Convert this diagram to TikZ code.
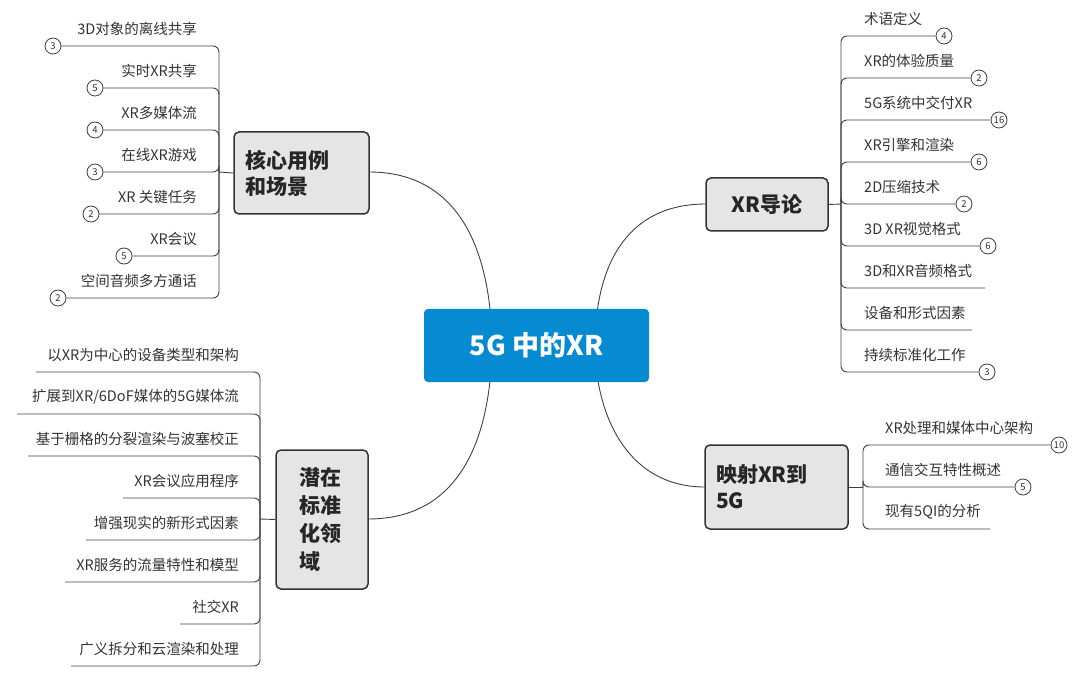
\documentclass[tikz,border=0pt]{standalone}
\usepackage{fontspec}
\setmainfont{Noto Sans CJK SC}
\begin{document}
\begin{tikzpicture}[x=1pt,y=-1pt,
  ln/.style={draw=black!75,line width=0.9pt},
  br/.style={draw=black!80,fill=black!10,line width=1.5pt,rounded corners=5pt,font=\fontsize{21}{26}\selectfont\bfseries,text=black!85,align=left,inner sep=0pt},
  it/.style={font=\fontsize{14.5}{17}\selectfont,text=black!80,inner sep=0pt},
  bd/.style={circle,draw=black!75,fill=white,line width=0.8pt,minimum size=16pt,inner sep=0pt,font=\fontsize{9.5}{10}\selectfont,text=black!80}]
\useasboundingbox (0,0) rectangle (1080,679);
% curves
\draw[ln] (369,172) .. controls (465,172) and (490,260) .. (492,340);
\draw[ln] (368,519) .. controls (465,519) and (490,430) .. (492,350);
\draw[ln] (706,204) .. controls (630,204) and (597,260) .. (595,340);
\draw[ln] (705,487) .. controls (630,487) and (597,420) .. (595,350);
% center
\node[fill={rgb,255:red,6;green,138;blue,210},rounded corners=4pt,minimum width=225pt,minimum height=73pt,text=white,font=\fontsize{27}{30}\selectfont\bfseries] (c) at (536.5,345.5) {5G 中的XR};
% branch nodes
\node[br,minimum width=135pt,minimum height=82pt,text width=113pt] (a) at (301.5,173) {核心用例\\和场景};
\node[br,minimum width=122pt,minimum height=53pt,align=center] (b) at (767,204.5) {XR导论};
\node[br,minimum width=143pt,minimum height=84pt,text width=121pt] (d) at (776.5,487) {映射XR到\\5G};
\node[br,minimum width=92pt,minimum height=139pt,text width=46pt,font=\fontsize{21}{28}\selectfont\bfseries] (e) at (322,519.5) {潜在\\标准\\化领\\域};
% connectors node->spine
\coordinate (sa) at (219,172); \coordinate (sb) at (841,204);
\coordinate (sd) at (863,487); \coordinate (se) at (260,519);
\draw[ln] (a.west) -- (sa); \draw[ln] (b.east) -- (sb);
\draw[ln] (d.east) -- (sd); \draw[ln] (e.west) -- (se);
% left top
\foreach \y/\t/\bx/\n [count=\i] in {46/{3D对象的离线共享}/53/3,88/{实时XR共享}/95/5,130/{XR多媒体流}/95/4,172/{在线XR游戏}/95/3,214/{XR 关键任务}/91/2,256/{XR会议}/124/5,298/{空间音频多方通话}/58/2}{
  \node[bd] (lb\i) at (\bx,\y) {\n};
  \draw[ln,rounded corners=6pt] (sa) |- (lb\i.east);
  \node[it,anchor=south east] (lt\i) at (197,\y-10) {\t};
}
% right top
\foreach \y/\t/\bx/\n [count=\i] in {36/{术语定义}/944/4,78/{XR的体验质量}/979/2,120/{5G系统中交付XR}/999/16,162/{XR引擎和渲染}/979/6,204/{2D压缩技术}/964/2,246/{3D XR视觉格式}/988/6,372/{持续标准化工作}/987/3}{
  \node[bd] (rb\i) at (\bx,\y) {\n};
  \draw[ln,rounded corners=6pt] (sb) |- (rb\i.west);
  \node[it,anchor=south west] (rt\i) at (864,\y-10) {\t};
}
\foreach \y/\t/\ex [count=\i] in {288/{3D和XR音频格式}/985,330/{设备和形式因素}/972}{
  \coordinate (re\i) at (\ex,\y);
  \draw[ln,rounded corners=6pt] (sb) |- (re\i);
  \node[it,anchor=south west] (rs\i) at (864,\y-10) {\t};
}
% bottom right
\foreach \y/\t/\bx/\n [count=\i] in {445/{XR处理和媒体中心架构}/1059/10,487/{通信交互特性概述}/1023/5}{
  \node[bd] (db\i) at (\bx,\y) {\n};
  \draw[ln,rounded corners=6pt] (sd) |- (db\i.west);
  \node[it,anchor=south west] (dt\i) at (885,\y-10) {\t};
}
\coordinate (de) at (990,529);
\draw[ln,rounded corners=6pt] (sd) |- (de);
\node[it,anchor=south west] (dt3) at (885,519) {现有5QI的分析};
% bottom left
\foreach \y/\t/\ex [count=\i] in {372/{以XR为中心的设备类型和架构}/36,414/{扩展到XR/6DoF媒体的5G媒体流}/17,456/{基于栅格的分裂渲染与波塞校正}/28,498/{XR会议应用程序}/123,540/{增强现实的新形式因素}/86,582/{XR服务的流量特性和模型}/65,624/{社交XR}/180,666/{广义拆分和云渲染和处理}/71}{
  \coordinate (ee\i) at (\ex,\y);
  \draw[ln,rounded corners=6pt] (se) |- (ee\i);
  \node[it,anchor=south east] (et\i) at (239,\y-10) {\t};
}
\end{tikzpicture}
\end{document}
